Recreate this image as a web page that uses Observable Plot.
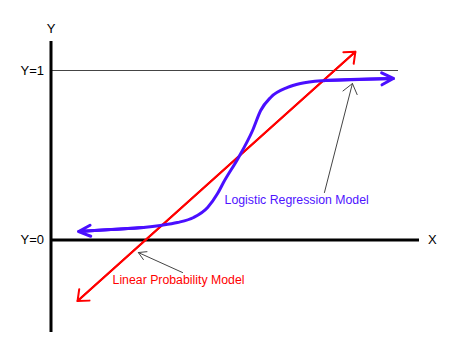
<!DOCTYPE html>
<html>
<head>
<meta charset="utf-8">
<script src="https://cdn.jsdelivr.net/npm/d3@7"></script>
<script src="https://cdn.jsdelivr.net/npm/@observablehq/plot@0.6"></script>
<style>
  html, body { margin: 0; padding: 0; background: #fff; }
  svg { display: block; }
</style>
</head>
<body>
<div id="chart"></div>
<script>
// Logistic regression curve (S-shaped, bounded by 0 and 1)
const logisticX = [0.75, 1.62, 2.51, 2.97, 3.43, 3.87, 4.25, 4.52, 4.68, 5.09, 5.47, 5.69, 5.96, 6.42, 6.77, 7.45, 8.13, 9.29];
const logisticY = [0.05, 0.062, 0.074, 0.086, 0.103, 0.133, 0.192, 0.274, 0.339, 0.487, 0.646, 0.764, 0.841, 0.90, 0.923, 0.941, 0.947, 0.953];

// Linear probability model (straight line, unbounded)
const linearX = [0.72, 8.26];
const linearY = [-0.36, 1.11];

// Axis extents and reference levels
const axisXEnd = 10;
const axisYRange = [-0.546, 1.171];
const upperLineEnd = 9.43;
const levelValues = [1, 0];
const levelLabels = ["Y=1", "Y=0"];

// Model labels and the pointers leading to the curves
const modelNames = ["Logistic Regression Model", "Linear Probability Model"];
const modelColors = ["#4f14ff", "#ff0000"];
const labelX = [4.71, 1.67];
const labelY = [0.236, -0.239];
const pointerFromX = [7.42, 3.57];
const pointerFromY = [0.28, -0.192];
const pointerToX = [8.18, 2.37];
const pointerToY = [0.923, -0.074];

const blue = "#4a0fff";
const red = "#ff0000";
const font = "'Liberation Sans', Arial, sans-serif";

const curve = logisticX.map((x, i) => ({x, y: logisticY[i]}));
const n = curve.length;
const levels = levelValues.map((v, i) => ({v, label: levelLabels[i]}));
const labels = modelNames.map((name, i) => ({name, x: labelX[i], y: labelY[i], color: modelColors[i]}));

const chart = Plot.plot({
  width: 454,
  height: 341,
  margin: 0,
  style: {background: "#fff", fontFamily: font},
  x: {type: "linear", domain: [-1.3704, 10.9498], axis: null},
  y: {type: "linear", domain: [-0.59882, 1.41298], axis: null},
  marks: [
    // Y = 1 reference line
    Plot.ruleY([1], {x1: 0, x2: upperLineEnd, stroke: "#444", strokeWidth: 1}),
    // Axes
    Plot.ruleY([0], {x1: 0, x2: axisXEnd, stroke: "#000", strokeWidth: 3}),
    Plot.ruleX([0], {y1: axisYRange[0], y2: axisYRange[1], stroke: "#000", strokeWidth: 3}),
    // Linear probability model, arrowheads at both ends
    Plot.arrow([0], {x1: linearX[0], y1: linearY[0], x2: linearX[1], y2: linearY[1],
      stroke: red, strokeWidth: 2, headLength: 9, headAngle: 80}),
    Plot.arrow([0], {x1: linearX[1], y1: linearY[1], x2: linearX[0], y2: linearY[0],
      stroke: red, strokeWidth: 2, headLength: 9, headAngle: 80}),
    // Logistic regression curve
    Plot.line(curve, {x: "x", y: "y", curve: "monotone-x", stroke: blue, strokeWidth: 3,
      strokeLinecap: "round", strokeLinejoin: "round"}),
    Plot.arrow([0], {x1: curve[n - 3].x, y1: curve[n - 3].y, x2: curve[n - 1].x, y2: curve[n - 1].y,
      stroke: blue, strokeWidth: 3, headLength: 6.5, headAngle: 55}),
    Plot.arrow([0], {x1: curve[2].x, y1: curve[2].y, x2: curve[0].x, y2: curve[0].y,
      stroke: blue, strokeWidth: 3, headLength: 6.5, headAngle: 50}),
    // Pointers from the labels to the curves
    Plot.arrow([0], {x1: pointerFromX[0], y1: pointerFromY[0], x2: pointerToX[0], y2: pointerToY[0],
      stroke: "#444", strokeWidth: 1, headLength: 18, headAngle: 75}),
    Plot.arrow([0], {x1: pointerFromX[1], y1: pointerFromY[1], x2: pointerToX[1], y2: pointerToY[1],
      stroke: "#444", strokeWidth: 1, headLength: 13, headAngle: 60}),
    // Model labels
    Plot.text(labels, {x: "x", y: "y", text: "name", fill: "color", textAnchor: "start",
      fontSize: 12.3, fontFamily: font}),
    // Axis titles and level labels
    Plot.text(levels, {x: 0, y: "v", text: "label", textAnchor: "end", dx: -7,
      fontSize: 13, fontFamily: font, fill: "#000"}),
    Plot.text(["Y"], {x: 0, y: 1.245, text: d => d, fontSize: 13, fontFamily: font, fill: "#000"}),
    Plot.text(["X"], {x: 10.35, y: 0, text: d => d, fontSize: 13, fontFamily: font, fill: "#000"})
  ]
});

document.getElementById("chart").appendChild(chart);
</script>
</body>
</html>
